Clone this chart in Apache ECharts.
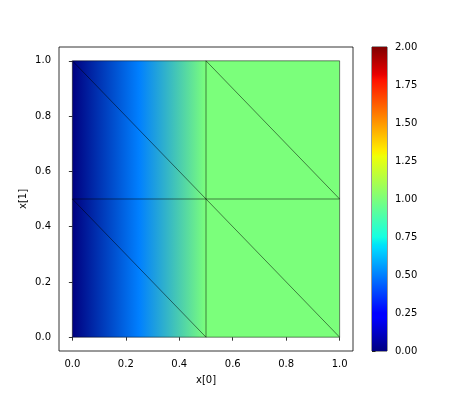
<!DOCTYPE html>
<html>
<head>
<meta charset="utf-8">
<script src="https://cdn.jsdelivr.net/npm/echarts@6/dist/echarts.min.js"></script>
<style>html,body{margin:0;padding:0;background:#fff;}#chart{width:474px;height:395px;}</style>
</head>
<body>
<div id="chart"></div>
<script>
// Field samples along x[0] (value is constant along x[1]); rendered with linear (Gouraud) colour interpolation
const fieldX = [0, 0.25, 0.5, 1];
const fieldV = [0, 0.5, 1, 1];
// Coarse triangle mesh
const meshNodesX = [0, 0.5, 1, 0, 0.5, 1, 0, 0.5, 1];
const meshNodesY = [0, 0, 0, 0.5, 0.5, 0.5, 1, 1, 1];
const meshTriangles = [[0,1,3],[1,4,3],[1,2,4],[2,5,4],[3,4,6],[4,7,6],[4,5,7],[5,8,7]];
// Axis ticks
const axisTicks = [0, 0.2, 0.4, 0.6, 0.8, 1.0];
const colorMin = 0, colorMax = 2, colorStep = 0.25;

// unique mesh edges
const edgeSet = {};
const meshEdges = [];
meshTriangles.forEach(t => {
  for (let i = 0; i < 3; i++) {
    const a = Math.min(t[i], t[(i+1)%3]), b = Math.max(t[i], t[(i+1)%3]);
    const k = a + '-' + b;
    if (!edgeSet[k]) { edgeSet[k] = 1; meshEdges.push([a, b]); }
  }
});

// matplotlib 'jet' segment data
const jetR = [[0,0],[0.35,0],[0.66,1],[0.89,1],[1,0.5]];
const jetG = [[0,0],[0.125,0],[0.375,1],[0.64,1],[0.91,0],[1,0]];
const jetB = [[0,0.5],[0.11,1],[0.34,1],[0.65,0],[1,0]];
function seg(s, t) {
  for (let i = 1; i < s.length; i++) {
    if (t <= s[i][0]) {
      const a = s[i-1], b = s[i];
      return a[1] + (b[1]-a[1]) * (t - a[0]) / (b[0] - a[0]);
    }
  }
  return s[s.length-1][1];
}
function jet(t) {
  t = Math.max(0, Math.min(1, t));
  const c = [seg(jetR,t), seg(jetG,t), seg(jetB,t)].map(v => Math.round(v*255));
  return 'rgb(' + c.join(',') + ')';
}
const jetBreaks = Array.from(new Set([].concat(jetR, jetG, jetB).map(p => p[0]))).sort((a,b)=>a-b);

const chart = echarts.init(document.getElementById('chart'));
const font = 'DejaVu Sans';
const axisCommon = {
  axisLine: {show: false},
  axisTick: {show: true, length: 3.5, lineStyle: {color: '#000', width: 0.8}},
  axisLabel: {color: '#000', fontFamily: font, fontSize: 10},
  splitLine: {show: false}
};

chart.setOption({
  animation: false,
  backgroundColor: '#fff',
  grid: [
    {left: 59, top: 47, width: 294, height: 304, show: true, borderColor: '#000', borderWidth: 0.8, backgroundColor: 'transparent', containLabel: false},
    {left: 372, top: 47, width: 15, height: 304, show: true, borderColor: '#000', borderWidth: 0.8, backgroundColor: 'transparent', containLabel: false}
  ],
  xAxis: [
    Object.assign({}, axisCommon, {
      type: 'value', gridIndex: 0, min: -0.05, max: 1.05,
      axisTick: Object.assign({}, axisCommon.axisTick, {customValues: axisTicks}),
      axisLabel: Object.assign({}, axisCommon.axisLabel, {customValues: axisTicks, margin: 8, formatter: v => v.toFixed(1)}),
      name: 'x[0]', nameLocation: 'middle', nameGap: 24, nameMoveOverlap: false,
      nameTextStyle: {color: '#000', fontFamily: font, fontSize: 10}
    }),
    {type: 'value', gridIndex: 1, min: 0, max: 1, show: false}
  ],
  yAxis: [
    Object.assign({}, axisCommon, {
      type: 'value', gridIndex: 0, min: -0.05, max: 1.05,
      axisTick: Object.assign({}, axisCommon.axisTick, {customValues: axisTicks}),
      axisLabel: Object.assign({}, axisCommon.axisLabel, {customValues: axisTicks, margin: 8, formatter: v => v.toFixed(1)}),
      name: 'x[1]', nameLocation: 'middle', nameGap: 31, nameRotate: 90, nameMoveOverlap: false,
      nameTextStyle: {color: '#000', fontFamily: font, fontSize: 10}
    }),
    Object.assign({}, axisCommon, {
      type: 'value', gridIndex: 1, position: 'right', min: colorMin, max: colorMax, interval: colorStep,
      axisLabel: Object.assign({}, axisCommon.axisLabel, {margin: 8, formatter: v => v.toFixed(2)})
    })
  ],
  series: [
    {
      type: 'custom', xAxisIndex: 0, yAxisIndex: 0, silent: true, z: 1,
      data: [[0]],
      renderItem: function (params, api) {
        const p0 = api.coord([fieldX[0], 0]);
        const p1 = api.coord([fieldX[fieldX.length-1], 1]);
        const x0 = p0[0], x1 = p1[0];
        const stops = fieldX.map((fx, i) => ({
          offset: (api.coord([fx, 0])[0] - x0) / (x1 - x0),
          color: jet((fieldV[i] - colorMin) / (colorMax - colorMin))
        }));
        return {
          type: 'rect',
          shape: {x: x0, y: p1[1], width: x1 - x0, height: p0[1] - p1[1]},
          style: {fill: new echarts.graphic.LinearGradient(0, 0, 1, 0, stops)}
        };
      }
    },
    {
      type: 'custom', xAxisIndex: 0, yAxisIndex: 0, silent: true, z: 2,
      data: meshEdges,
      renderItem: function (params, api) {
        const e = meshEdges[params.dataIndex];
        const pts = e.map(n => api.coord([meshNodesX[n], meshNodesY[n]]));
        return {
          type: 'polyline',
          shape: {points: pts},
          style: {fill: 'none', stroke: '#000', lineWidth: 0.5}
        };
      }
    },
    {
      type: 'custom', xAxisIndex: 1, yAxisIndex: 1, silent: true,
      data: [[0]],
      renderItem: function (params, api) {
        const pb = api.coord([0, colorMin]);
        const pt = api.coord([1, colorMax]);
        const stops = jetBreaks.map(t => ({offset: t, color: jet(t)}));
        return {
          type: 'rect',
          shape: {x: pb[0], y: pt[1], width: pt[0] - pb[0], height: pb[1] - pt[1]},
          style: {fill: new echarts.graphic.LinearGradient(0, 1, 0, 0, stops)}
        };
      }
    }
  ]
});
</script>
</body>
</html>
